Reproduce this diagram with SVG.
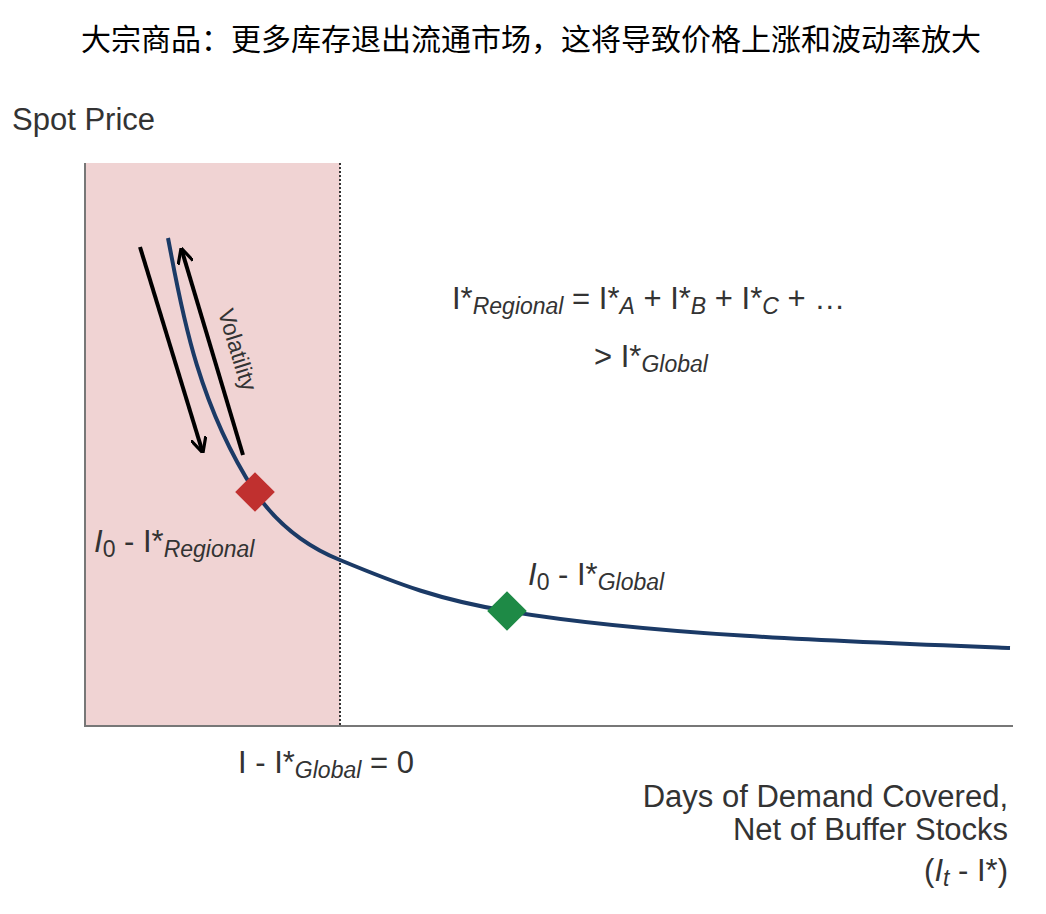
<svg xmlns="http://www.w3.org/2000/svg" width="1046" height="914" viewBox="0 0 1046 914">
<style>
text{font-family:"Liberation Sans",Arial,sans-serif;fill:#333}
.t{font-size:31px}
.s{font-size:23px;font-style:italic}
.cn{font-family:"Noto Sans CJK SC",sans-serif;font-size:30px;fill:#000}
</style>
<defs><marker id="ah" viewBox="0 0 10 10" refX="8" refY="5" markerWidth="4" markerHeight="4" orient="auto"><path d="M0,0L10,5L0,10" fill="none" stroke="#000" stroke-width="2"/></marker></defs>
<rect width="1046" height="914" fill="#fff"/>
<text class="cn" x="531" y="50" text-anchor="middle">大宗商品：更多库存退出流通市场，这将导致价格上涨和波动率放大</text>
<text class="t" x="12" y="130">Spot Price</text>
<rect x="86" y="163" width="254" height="563" fill="#f0d3d3"/>
<line x1="340" y1="163" x2="340" y2="726" stroke="#333" stroke-width="2" stroke-dasharray="2,2"/>
<g id="axes" stroke="#777" stroke-width="2"><line x1="85" y1="163" x2="85" y2="727"/><line x1="85" y1="726" x2="1013" y2="726"/></g>
<g id="connectors" fill="none">
<path d="M168,238 C180,300 195,400 255,492 C280,528 310,548 340,560 C400,585 440,600 507,611 C650,635 850,642 1010,648" stroke="#1b3a66" stroke-width="4"/>
<line x1="140" y1="247" x2="202" y2="450" stroke="#000" stroke-width="4" marker-end="url(#ah)"/>
<line x1="243" y1="455" x2="182" y2="251" stroke="#000" stroke-width="4" marker-end="url(#ah)"/>
</g>
<text x="0" y="0" transform="translate(230,352) rotate(73)" text-anchor="middle" style="font-size:23px">Volatility</text>
<g id="red"><rect x="241" y="478" width="28" height="28" fill="#c0302f" transform="rotate(45 255 492)"/></g>
<g id="green"><rect x="493" y="597" width="28" height="28" fill="#1e8a46" transform="rotate(45 507 611)"/></g>
<text class="t" x="94" y="552"><tspan font-style="italic">I</tspan><tspan font-size="23" dy="5">0</tspan><tspan dy="-5"> - I*</tspan><tspan class="s" dy="5">Regional</tspan></text>
<text class="t" x="528" y="585"><tspan font-style="italic">I</tspan><tspan font-size="23" dy="5">0</tspan><tspan dy="-5"> - I*</tspan><tspan class="s" dy="5">Global</tspan></text>
<text class="t" x="452" y="309">I*<tspan class="s" dy="5">Regional</tspan><tspan dy="-5"> = I*</tspan><tspan class="s" dy="5">A</tspan><tspan dy="-5"> + I*</tspan><tspan class="s" dy="5">B</tspan><tspan dy="-5"> + I*</tspan><tspan class="s" dy="5">C</tspan><tspan dy="-5"> + …</tspan></text>
<text class="t" x="594" y="367">&gt; I*<tspan class="s" dy="5">Global</tspan></text>
<text class="t" x="238" y="773">I - I*<tspan class="s" dy="5">Global</tspan><tspan dy="-5"> = 0</tspan></text>
<text class="t" x="1008" y="807" text-anchor="end">Days of Demand Covered,</text>
<text class="t" x="1008" y="840" text-anchor="end">Net of Buffer Stocks</text>
<text class="t" x="1008" y="881" text-anchor="end">(<tspan font-style="italic">I</tspan><tspan class="s" dy="5">t</tspan><tspan dy="-5"> - I*)</tspan></text>
</svg>
